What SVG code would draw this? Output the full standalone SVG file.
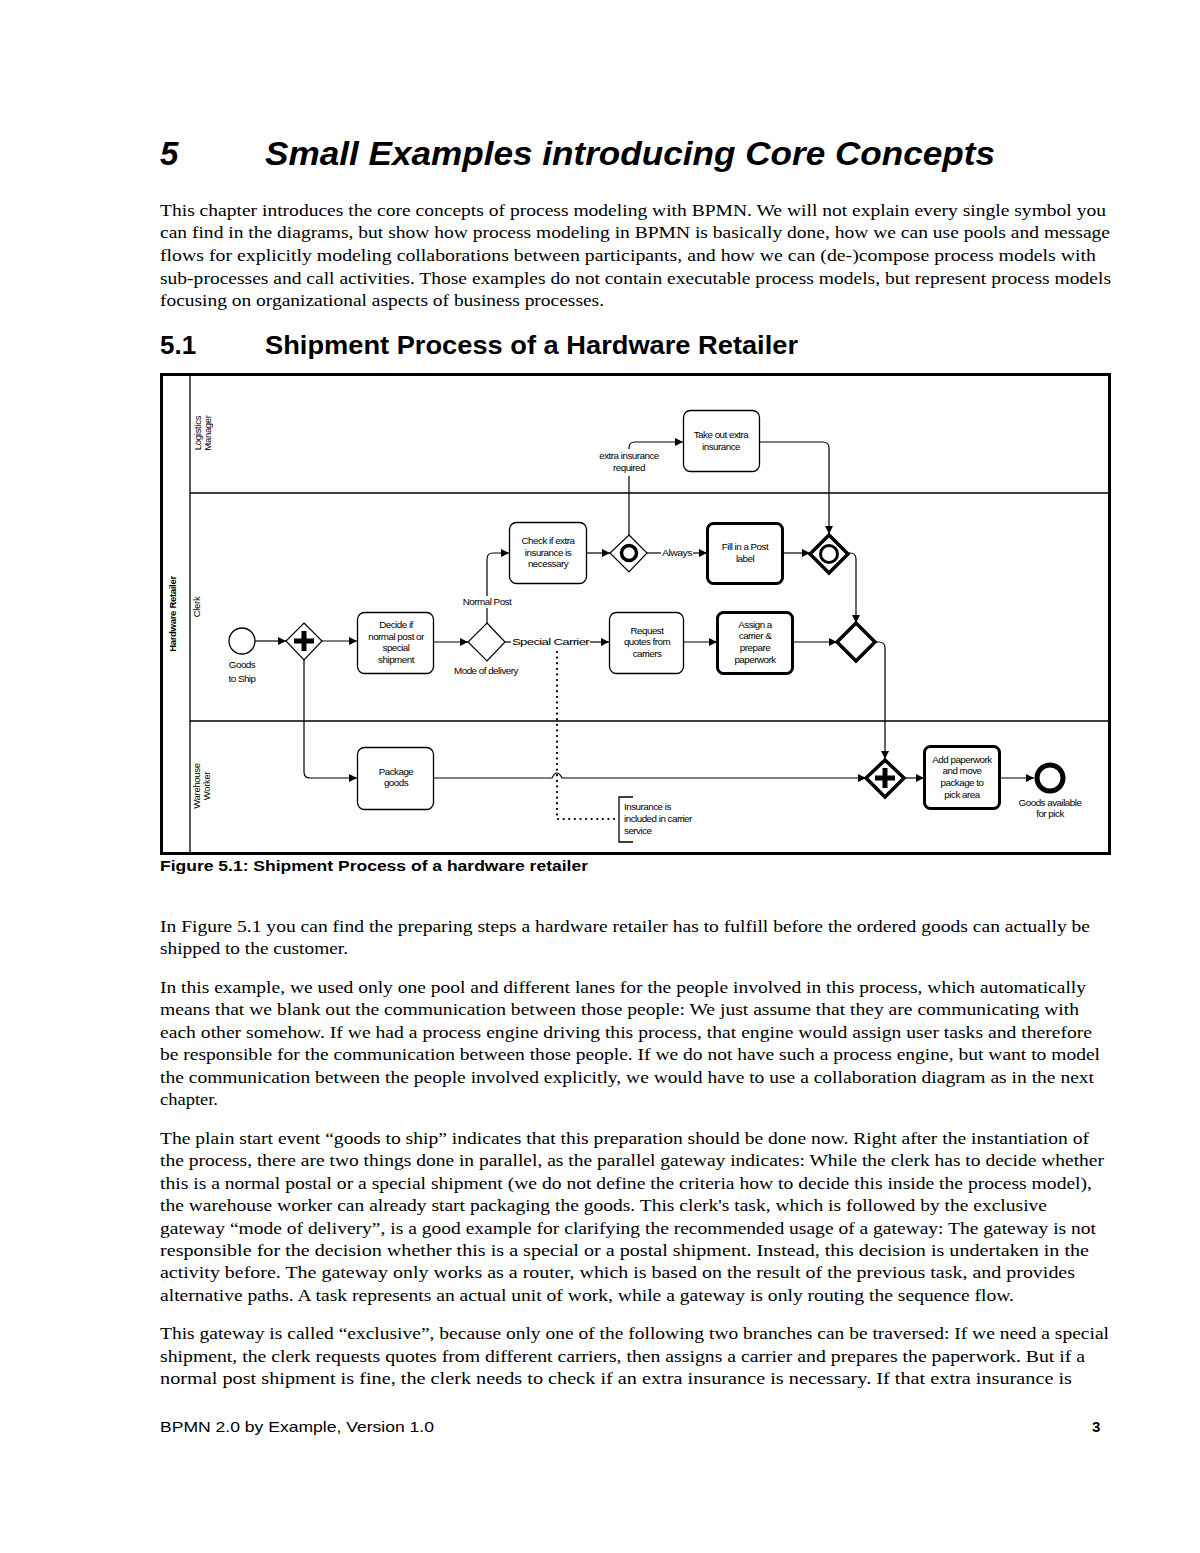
<svg xmlns="http://www.w3.org/2000/svg" width="1200" height="1553" viewBox="0 0 1200 1553">
<style>
.body{font-family:"Liberation Serif","Times New Roman",serif;font-size:17.5px;fill:#000}
.h1{font-family:"Liberation Sans",Arial,sans-serif;font-size:33px;font-weight:bold;font-style:italic;fill:#000}
.h2{font-family:"Liberation Sans",Arial,sans-serif;font-size:26px;font-weight:bold;fill:#000}
.cap{font-family:"Liberation Sans",Arial,sans-serif;font-size:14px;font-weight:bold;fill:#000}
.foot{font-family:"Liberation Sans",Arial,sans-serif;font-size:15px;fill:#000}
.lbl{font-family:"Liberation Sans",Arial,sans-serif;font-size:9.8px;letter-spacing:-0.5px;fill:#000;text-anchor:middle}
.lane{font-family:"Liberation Sans",Arial,sans-serif;font-size:9.5px;letter-spacing:-0.3px;fill:#000;text-anchor:middle}
.task{fill:#fff;stroke:#000;stroke-width:1.3}
.taskb{fill:#fff;stroke:#000;stroke-width:3}
.flow{fill:none;stroke:#000;stroke-width:1.2;marker-end:url(#arr)}
.line{fill:none;stroke:#000;stroke-width:1.2}
.gw{fill:#fff;stroke:#000;stroke-width:1.2}
.gwb{fill:#fff;stroke:#000;stroke-width:3.5}
.bg{fill:#fff}
</style>
<defs>
<marker id="arr" markerUnits="userSpaceOnUse" markerWidth="9" markerHeight="9" refX="8" refY="4.5" orient="auto">
<path d="M0,0.5 L8,4.5 L0,8.5 z" fill="#000"/>
</marker>
</defs>
<rect x="0" y="0" width="1200" height="1553" fill="#fff"/>

<!-- Page text -->
<text class="h1" x="160" y="165">5</text>
<text class="h1" x="265" y="165" textLength="730" lengthAdjust="spacingAndGlyphs">Small Examples introducing Core Concepts</text>
<g class="body">
<text x="160" y="216" textLength="946" lengthAdjust="spacingAndGlyphs">This chapter introduces the core concepts of process modeling with BPMN. We will not explain every single symbol you</text>
<text x="160" y="238" textLength="950" lengthAdjust="spacingAndGlyphs">can find in the diagrams, but show how process modeling in BPMN is basically done, how we can use pools and message</text>
<text x="160" y="261" textLength="936" lengthAdjust="spacingAndGlyphs">flows for explicitly modeling collaborations between participants, and how we can (de-)compose process models with</text>
<text x="160" y="284" textLength="951" lengthAdjust="spacingAndGlyphs">sub-processes and call activities. Those examples do not contain executable process models, but represent process models</text>
<text x="160" y="306" textLength="444" lengthAdjust="spacingAndGlyphs">focusing on organizational aspects of business processes.</text>
</g>
<text class="h2" x="160" y="354">5.1</text>
<text class="h2" x="265" y="354" textLength="533" lengthAdjust="spacingAndGlyphs">Shipment Process of a Hardware Retailer</text>

<!-- Pool and lanes -->
<g id="pool">
<rect x="161.5" y="374.5" width="948" height="479" fill="none" stroke="#000" stroke-width="3"/>
<line x1="190" y1="375" x2="190" y2="853" stroke="#000" stroke-width="1.3"/>
<line x1="190" y1="493" x2="1109" y2="493" stroke="#000" stroke-width="1.3"/>
<line x1="190" y1="721" x2="1109" y2="721" stroke="#000" stroke-width="1.3"/>
<text class="lane" font-weight="bold" transform="translate(176,614) rotate(-90)">Hardware Retailer</text>
<text class="lane" transform="translate(201,433) rotate(-90)">Logistics</text>
<text class="lane" transform="translate(211,433) rotate(-90)">Manager</text>
<text class="lane" transform="translate(200,607) rotate(-90)">Clerk</text>
<text class="lane" transform="translate(200,786) rotate(-90)">Warehouse</text>
<text class="lane" transform="translate(210,786) rotate(-90)">Worker</text>
</g>

<!-- Connectors -->
<g id="connectors">
<path class="flow" d="M255,641 H286"/>
<path class="flow" d="M322,641 H357"/>
<path class="flow" d="M434,642 H468"/>
<path class="flow" d="M304,660 V772 Q304,778 310,778 H357"/>
<path class="line" d="M487,623 V608"/>
<path class="flow" d="M487,596 V559 Q487,553 493,553 H509"/>
<path class="flow" d="M587,553 H610"/>
<path class="line" d="M629,536 V476"/>
<path class="flow" d="M629,449 V448 Q629,442 635,442 H683"/>
<path class="line" d="M647,553 H661"/>
<path class="flow" d="M693,553 H707"/>
<path class="flow" d="M760,442 H823 Q829,442 829,448 V534"/>
<path class="flow" d="M783,553 H810"/>
<path class="flow" d="M849,553 H850 Q856,553 856,559 V623"/>
<path class="line" d="M505,642 H511"/>
<path class="flow" d="M590,642 H609"/>
<path class="flow" d="M684,642 H717"/>
<path class="flow" d="M793,642 H837"/>
<path class="flow" d="M875,642 H879 Q885,642 885,648 V759"/>
<path class="flow" d="M434,778 H552 Q557,768 562,778 H866"/>
<path class="flow" d="M905,778 H924"/>
<path class="flow" d="M1000,778 H1034"/>
<path d="M557,652 V819 H616" fill="none" stroke="#000" stroke-width="2.2" stroke-linecap="round" stroke-dasharray="0.1,5.5"/>
<rect class="bg" x="600" y="450" width="58" height="25"/>
<text class="lbl" x="629" y="459">extra insurance</text>
<text class="lbl" x="629" y="471">required</text>
<text class="lbl" x="487" y="605">Normal Post</text>
<text class="lbl" x="662" y="556" style="text-anchor:start" textLength="30" lengthAdjust="spacingAndGlyphs">Always</text>
<text class="lbl" x="512" y="645" style="text-anchor:start" textLength="77" lengthAdjust="spacingAndGlyphs">Special Carrier</text>
</g>

<!-- Nodes -->
<g id="start">
<circle cx="242" cy="641" r="13" fill="#fff" stroke="#000" stroke-width="1.3"/>
<text class="lbl" x="242" y="668">Goods</text>
<text class="lbl" x="242" y="682">to Ship</text>
</g>
<g id="split">
<path class="gw" d="M304,623 L322,641 L304,660 L286,641 z"/>
<path d="M304,631 V651 M294,641 H314" stroke="#000" stroke-width="5"/>
</g>
<g id="decide">
<rect class="task" x="357.5" y="612.5" width="76" height="61" rx="7"/>
<text class="lbl" x="396" y="628">Decide if</text>
<text class="lbl" x="396" y="640">normal post or</text>
<text class="lbl" x="396" y="651">special</text>
<text class="lbl" x="396" y="663">shipment</text>
</g>
<g id="mode">
<path class="gw" d="M487,623 L505,642 L487,661 L468,642 z"/>
<text class="lbl" x="486" y="674">Mode of delivery</text>
</g>
<g id="check">
<rect class="task" x="509.5" y="522.5" width="77" height="61" rx="7"/>
<text class="lbl" x="548" y="544">Check if extra</text>
<text class="lbl" x="548" y="556">insurance is</text>
<text class="lbl" x="548" y="567">necessary</text>
</g>
<g id="orsplit">
<path class="gw" d="M629,535 L647,553 L629,572 L610,553 z"/>
<circle cx="629" cy="553" r="7.5" fill="none" stroke="#000" stroke-width="3.5"/>
</g>
<g id="takeout">
<rect class="task" x="683.5" y="410.5" width="76" height="61" rx="7"/>
<text class="lbl" x="721" y="438">Take out extra</text>
<text class="lbl" x="721" y="450">insurance</text>
</g>
<g id="fillin">
<rect class="taskb" x="707.5" y="523.5" width="75" height="60" rx="6"/>
<text class="lbl" x="745" y="550">Fill in a Post</text>
<text class="lbl" x="745" y="562">label</text>
</g>
<g id="ormerge">
<path class="gwb" d="M829,535 L848,554 L829,573 L810,554 z"/>
<circle cx="829" cy="554" r="8.5" fill="none" stroke="#000" stroke-width="3"/>
</g>
<g id="request">
<rect class="task" x="609.5" y="612.5" width="74" height="61" rx="7"/>
<text class="lbl" x="647" y="634">Request</text>
<text class="lbl" x="647" y="645">quotes from</text>
<text class="lbl" x="647" y="657">carriers</text>
</g>
<g id="assign">
<rect class="taskb" x="717.5" y="612.5" width="75" height="61" rx="6"/>
<text class="lbl" x="755" y="628">Assign a</text>
<text class="lbl" x="755" y="639">carrier &amp;</text>
<text class="lbl" x="755" y="651">prepare</text>
<text class="lbl" x="755" y="663">paperwork</text>
</g>
<g id="xormerge">
<path class="gwb" d="M856,623 L875,642 L856,661 L837,642 z"/>
</g>
<g id="package">
<rect class="task" x="357.5" y="747.5" width="76" height="62" rx="7"/>
<text class="lbl" x="396" y="775">Package</text>
<text class="lbl" x="396" y="786">goods</text>
</g>
<g id="join">
<path class="gwb" d="M885,760 L904,778 L885,797 L866,778 z"/>
<path d="M885,768 V788 M875,778 H895" stroke="#000" stroke-width="5"/>
</g>
<g id="addpaper">
<rect class="taskb" x="924.5" y="746.5" width="75" height="62" rx="6"/>
<text class="lbl" x="962" y="763">Add paperwork</text>
<text class="lbl" x="962" y="774">and move</text>
<text class="lbl" x="962" y="786">package to</text>
<text class="lbl" x="962" y="798">pick area</text>
</g>
<g id="end">
<circle cx="1050" cy="778" r="13" fill="#fff" stroke="#000" stroke-width="5"/>
<text class="lbl" x="1050" y="806">Goods available</text>
<text class="lbl" x="1050" y="817">for pick</text>
</g>
<g id="annotation">
<path d="M633,797 H619 V842 H633" fill="none" stroke="#000" stroke-width="1.3"/>
<text class="lbl" x="624" y="810" style="text-anchor:start">Insurance is</text>
<text class="lbl" x="624" y="822" style="text-anchor:start">included in carrier</text>
<text class="lbl" x="624" y="834" style="text-anchor:start">service</text>
</g>

<text class="cap" x="160" y="871" textLength="428" lengthAdjust="spacingAndGlyphs">Figure 5.1: Shipment Process of a hardware retailer</text>

<g class="body">
<text x="160" y="932" textLength="930" lengthAdjust="spacingAndGlyphs">In Figure 5.1 you can find the preparing steps a hardware retailer has to fulfill before the ordered goods can actually be</text>
<text x="160" y="954" textLength="188" lengthAdjust="spacingAndGlyphs">shipped to the customer.</text>
<text x="160" y="993" textLength="926" lengthAdjust="spacingAndGlyphs">In this example, we used only one pool and different lanes for the people involved in this process, which automatically</text>
<text x="160" y="1015" textLength="919" lengthAdjust="spacingAndGlyphs">means that we blank out the communication between those people: We just assume that they are communicating with</text>
<text x="160" y="1038" textLength="932" lengthAdjust="spacingAndGlyphs">each other somehow. If we had a process engine driving this process, that engine would assign user tasks and therefore</text>
<text x="160" y="1060" textLength="940" lengthAdjust="spacingAndGlyphs">be responsible for the communication between those people. If we do not have such a process engine, but want to model</text>
<text x="160" y="1083" textLength="934" lengthAdjust="spacingAndGlyphs">the communication between the people involved explicitly, we would have to use a collaboration diagram as in the next</text>
<text x="160" y="1105" textLength="58" lengthAdjust="spacingAndGlyphs">chapter.</text>
<text x="160" y="1144" textLength="929" lengthAdjust="spacingAndGlyphs">The plain start event “goods to ship” indicates that this preparation should be done now. Right after the instantiation of</text>
<text x="160" y="1166" textLength="944" lengthAdjust="spacingAndGlyphs">the process, there are two things done in parallel, as the parallel gateway indicates: While the clerk has to decide whether</text>
<text x="160" y="1189" textLength="932" lengthAdjust="spacingAndGlyphs">this is a normal postal or a special shipment (we do not define the criteria how to decide this inside the process model),</text>
<text x="160" y="1211" textLength="887" lengthAdjust="spacingAndGlyphs">the warehouse worker can already start packaging the goods. This clerk's task, which is followed by the exclusive</text>
<text x="160" y="1234" textLength="936" lengthAdjust="spacingAndGlyphs">gateway “mode of delivery”, is a good example for clarifying the recommended usage of a gateway: The gateway is not</text>
<text x="160" y="1256" textLength="929" lengthAdjust="spacingAndGlyphs">responsible for the decision whether this is a special or a postal shipment. Instead, this decision is undertaken in the</text>
<text x="160" y="1278" textLength="915" lengthAdjust="spacingAndGlyphs">activity before.  The gateway only works as a router, which is based on the result of the previous task, and provides</text>
<text x="160" y="1301" textLength="854" lengthAdjust="spacingAndGlyphs">alternative paths. A task represents an actual unit of work, while a gateway is only routing the sequence flow.</text>
<text x="160" y="1339" textLength="949" lengthAdjust="spacingAndGlyphs">This gateway is called “exclusive”, because only one of the following two branches can be traversed: If we need a special</text>
<text x="160" y="1362" textLength="925" lengthAdjust="spacingAndGlyphs">shipment, the clerk requests quotes from different carriers, then assigns a carrier and prepares the paperwork. But if a</text>
<text x="160" y="1384" textLength="912" lengthAdjust="spacingAndGlyphs">normal post shipment is fine, the clerk needs to check if an extra insurance is necessary. If that extra insurance is</text>
</g>

<text class="foot" x="160" y="1432" textLength="274" lengthAdjust="spacingAndGlyphs">BPMN 2.0 by Example, Version 1.0</text>
<text class="foot" x="1092" y="1432" font-weight="bold">3</text>
</svg>
